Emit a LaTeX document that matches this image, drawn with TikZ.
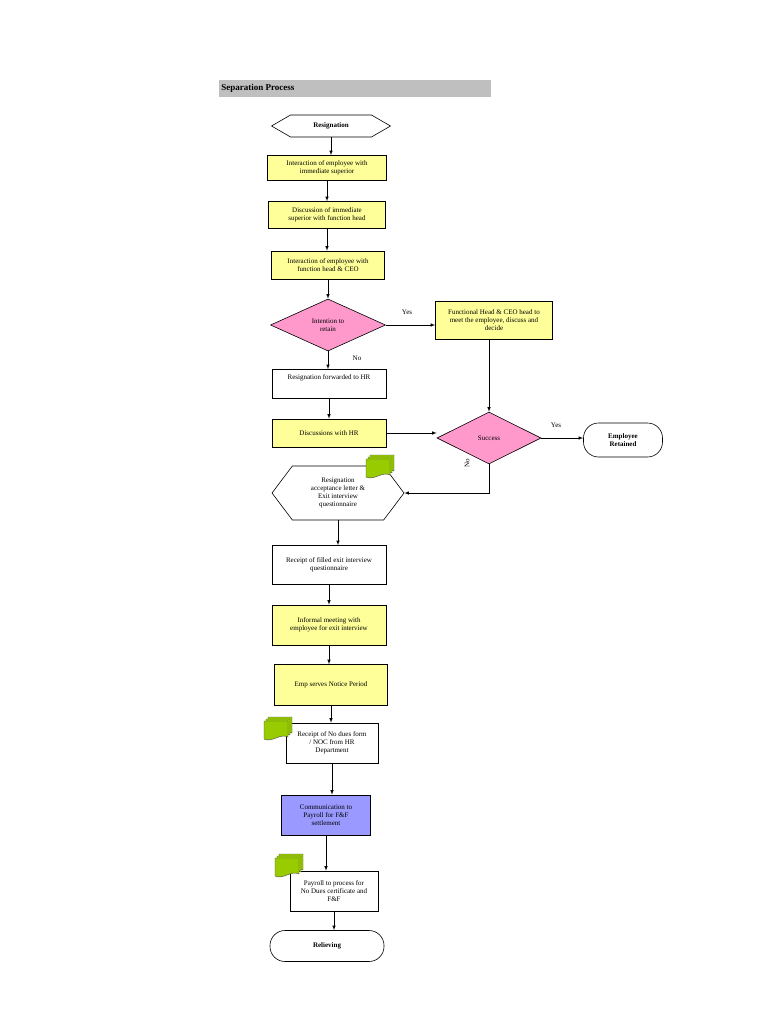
\documentclass[tikz,border=0pt]{standalone}
\usepackage{fontspec}
\setmainfont{Liberation Serif}
\usetikzlibrary{shapes.geometric,shapes.symbols}
\definecolor{stepyellow}{HTML}{FFFF99}
\definecolor{decpink}{HTML}{FF99CC}
\definecolor{paybl}{HTML}{9999FF}
\definecolor{docgreen}{HTML}{99CC00}
\newcommand{\docstack}[2]{%
  \foreach \d in {4,2,0}{
    \filldraw[fill=docgreen, draw=black!70, line width=0.4pt] (#1+\d,#2-\d) -- ++(24,0) -- ++(0,16) .. controls ++(-8,-4) and ++(8,4) .. ++(-24,2) -- cycle;
  }}
\begin{document}
\begin{tikzpicture}[x=1pt, y=-1pt, line width=0.6pt, >=latex,
    every node/.style={font=\fontsize{7}{8}\selectfont, align=center, draw, inner sep=1pt},
    procstep/.style={rectangle, fill=stepyellow},
    plain/.style={rectangle, fill=white},
    dec/.style={diamond, fill=decpink, aspect=2.2},
    term/.style={rounded corners=15pt, fill=white, font=\fontsize{7}{8}\selectfont\bfseries},
    hexa/.style={signal, signal to=west and east, fill=white},
    lab/.style={draw=none, fill=none}]
  \useasboundingbox (0,0) rectangle (768,1024);

  \fill[black!25] (219,80) rectangle (491,97);
  \node[lab, anchor=west, font=\fontsize{9}{10}\selectfont\bfseries] (title) at (220,88.5) {Separation Process};

  \node[hexa, minimum width=119, minimum height=22, signal pointer angle=60, font=\fontsize{7}{8}\selectfont\bfseries] (resign) at (331,126) {Resignation};
  \node[procstep, minimum width=119, minimum height=25] (superior) at (327,168) {Interaction of employee with\\immediate superior};
  \node[procstep, minimum width=117, minimum height=27] (funchead) at (327,215) {Discussion of immediate\\superior with function head};
  \node[procstep, minimum width=113, minimum height=28] (ceo) at (328,265) {Interaction of employee with\\function head \& CEO};
  \node[dec, minimum width=115, minimum height=52] (retain) at (328,325) {Intention to\\retain};
  \node[procstep, minimum width=117, minimum height=38] (meet) at (494,320) {Functional Head \& CEO head to\\meet the employee, discuss and\\decide};
  \node[plain, minimum width=114, minimum height=29, text depth=14pt] (fwd) at (329,384) {Resignation forwarded to HR};
  \node[procstep, minimum width=114, minimum height=28] (hrdisc) at (329,433) {Discussions with HR};
  \node[dec, minimum width=104, minimum height=52] (success) at (489,438) {Success};
  \node[term, minimum width=79, minimum height=34] (retained) at (623,440) {Employee\\Retained};
  \node[hexa, minimum width=132, minimum height=54, signal pointer angle=106] (accept) at (338,493) {Resignation\\acceptance letter \&\\Exit interview\\questionnaire};
  \node[plain, minimum width=114, minimum height=39] (receipt) at (329,565) {Receipt of filled exit interview\\questionnaire};
  \node[procstep, minimum width=114, minimum height=40] (informal) at (329,625) {Informal meeting with\\employee for exit interview};
  \node[procstep, minimum width=113, minimum height=41] (notice) at (331,685) {Emp serves Notice Period};
  \node[plain, minimum width=92, minimum height=40] (nodues) at (332,743) {Receipt of No dues form\\/ NOC from HR\\Department};
  \node[rectangle, fill=paybl, minimum width=89, minimum height=40] (payroll) at (326,815) {Communication to\\Payroll for F\&F\\settlement};
  \node[plain, minimum width=88, minimum height=40] (process) at (334,891) {Payroll to process for\\No Dues certificate and\\F\&F};
  \node[term, minimum width=114, minimum height=31] (relieve) at (327,946) {Relieving};

  \node[lab] (yes1) at (407,312) {Yes};
  \node[lab] (no1) at (357,358) {No};
  \node[lab] (yes2) at (556,425) {Yes};
  \node[lab, rotate=90] (no2) at (467,463) {No};

  \docstack{366}{459}
  \docstack{264}{721}
  \docstack{275}{858}

  \foreach \a/\b in {resign/superior, superior/funchead, funchead/ceo, ceo/retain, retain/fwd, fwd/hrdisc, accept/receipt, receipt/informal, informal/notice, notice/nodues, nodues/payroll, payroll/process, process/relieve}
    \draw[->] (\a.south) -- (\a.south |- \b.north);
  \draw[->] (retain.east) -- (meet.west |- retain.east);
  \draw[->] (meet.south -| success.north) -- (success.north);
  \draw[->] (hrdisc.east) -- (success.west |- hrdisc.east);
  \draw[->] (success.east) -- (retained.west |- success.east);
  \draw[->] (success.south) |- (accept.east);
\end{tikzpicture}
\end{document}
